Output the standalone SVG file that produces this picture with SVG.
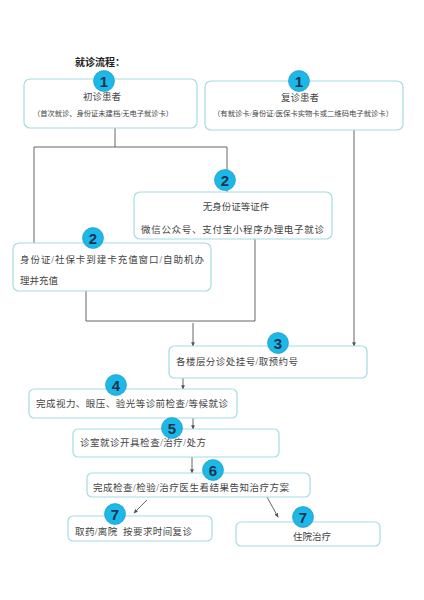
<svg xmlns="http://www.w3.org/2000/svg" width="424" height="600" viewBox="0 0 424 600">
<style>
.box{fill:#fff;stroke:#a6dbe6;stroke-width:1.2}
.b{fill:#1cb8e8;stroke:#1590c0;stroke-width:0.6}
.bn{font-family:"Liberation Sans","Noto Sans CJK SC",sans-serif;font-weight:bold;font-size:15px;fill:#1d3550;text-anchor:middle}
.t{font-family:"Liberation Serif","Noto Sans CJK SC",serif;font-size:9.5px;fill:#444}
.s{font-family:"Liberation Serif","Noto Sans CJK SC",serif;font-size:7px;fill:#444}
.ln{fill:none;stroke:#555;stroke-width:0.9}
</style>
<defs>
<marker id="ah" viewBox="0 0 6 6" refX="5" refY="3" markerWidth="5" markerHeight="5" orient="auto">
<path d="M0,0.5 L6,3 L0,5.5 z" fill="#555"/>
</marker>
</defs>
<rect width="424" height="600" fill="#fff"/>
<text x="75" y="66" font-family="Liberation Serif,'Noto Sans CJK SC',serif" font-size="10" font-weight="bold" fill="#222">就诊流程：</text>
<g id="connectors">
<path class="ln" d="M115,128 V147 M34,147 H227 M34,147 V243 M227,147 V192"/>
<path class="ln" d="M354,130 V346" marker-end="url(#ah)"/>
<path class="ln" d="M86,291 V321 H255 M255,239 V321"/>
<path class="ln" d="M193,323 V346" marker-end="url(#ah)"/>
<path class="ln" d="M183,378 V389" marker-end="url(#ah)"/>
<path class="ln" d="M193,418 V429" marker-end="url(#ah)"/>
<path class="ln" d="M192,457 V473" marker-end="url(#ah)"/>
<path class="ln" d="M147,500 L134,513" marker-end="url(#ah)"/>
<path class="ln" d="M267,497 L278,517" marker-end="url(#ah)"/>
</g>
<g id="n1a">
<rect class="box" x="24" y="79" width="173" height="49" rx="6"/>
<circle class="b" cx="104" cy="81" r="10.5"/><text class="bn" x="104" y="86.5">1</text>
<text class="t" x="102" y="100" text-anchor="middle">初诊患者</text>
<text class="s" x="33" y="116" textLength="140" lengthAdjust="spacingAndGlyphs">（首次就诊、身份证未建档/无电子就诊卡）</text>
</g>
<g id="n1b">
<rect class="box" x="205" y="81" width="198" height="49" rx="6"/>
<circle class="b" cx="299" cy="81" r="10.5"/><text class="bn" x="299" y="86.5">1</text>
<text class="t" x="300" y="101" text-anchor="middle">复诊患者</text>
<text class="s" x="213" y="116" textLength="180" lengthAdjust="spacingAndGlyphs">（有就诊卡/身份证/医保卡实物卡或二维码电子就诊卡）</text>
</g>
<g id="n2a">
<rect class="box" x="134" y="192" width="198" height="47" rx="6"/>
<circle class="b" cx="225" cy="180" r="10.5"/><text class="bn" x="225" y="185.5">2</text>
<text class="t" x="236" y="210" text-anchor="middle">无身份证等证件</text>
<text class="t" x="141" y="233" textLength="183">微信公众号、支付宝小程序办理电子就诊</text>
</g>
<g id="n2b">
<rect class="box" x="13" y="243" width="198" height="48" rx="6"/>
<circle class="b" cx="93" cy="238" r="10.5"/><text class="bn" x="93" y="243.5">2</text>
<text class="t" x="20" y="263" textLength="184">身份证/社保卡到建卡充值窗口/自助机办</text>
<text class="t" x="20" y="284">理并充值</text>
</g>
<g id="n3">
<rect class="box" x="169" y="346" width="198" height="32" rx="5"/>
<circle class="b" cx="278" cy="343" r="10.5"/><text class="bn" x="278" y="348.5">3</text>
<text class="t" x="176" y="365" textLength="122">各楼层分诊处挂号/取预约号</text>
</g>
<g id="n4">
<rect class="box" x="29" y="389" width="208" height="29" rx="5"/>
<circle class="b" cx="116" cy="385" r="10.5"/><text class="bn" x="116" y="390.5">4</text>
<text class="t" x="36" y="407" textLength="192">完成视力、眼压、验光等诊前检查/等候就诊</text>
</g>
<g id="n5">
<rect class="box" x="73" y="429" width="206" height="28" rx="5"/>
<circle class="b" cx="172" cy="428" r="10.5"/><text class="bn" x="172" y="433.5">5</text>
<text class="t" x="80" y="446" textLength="126">诊室就诊开具检查/治疗/处方</text>
</g>
<g id="n6">
<rect class="box" x="87" y="473" width="223" height="24" rx="5"/>
<circle class="b" cx="213" cy="470" r="10.5"/><text class="bn" x="213" y="475.5">6</text>
<text class="t" x="93" y="491" textLength="196">完成检查/检验/治疗医生看结果告知治疗方案</text>
</g>
<g id="n7a">
<rect class="box" x="68" y="516" width="144" height="25" rx="5"/>
<circle class="b" cx="115" cy="514" r="10.5"/><text class="bn" x="115" y="519.5">7</text>
<text class="t" x="75" y="535" textLength="117" xml:space="preserve">取药/离院  按要求时间复诊</text>
</g>
<g id="n7b">
<rect class="box" x="236" y="522" width="144" height="24" rx="5"/>
<circle class="b" cx="303" cy="517" r="10.5"/><text class="bn" x="303" y="522.5">7</text>
<text class="t" x="312" y="540" text-anchor="middle">住院治疗</text>
</g>
</svg>
